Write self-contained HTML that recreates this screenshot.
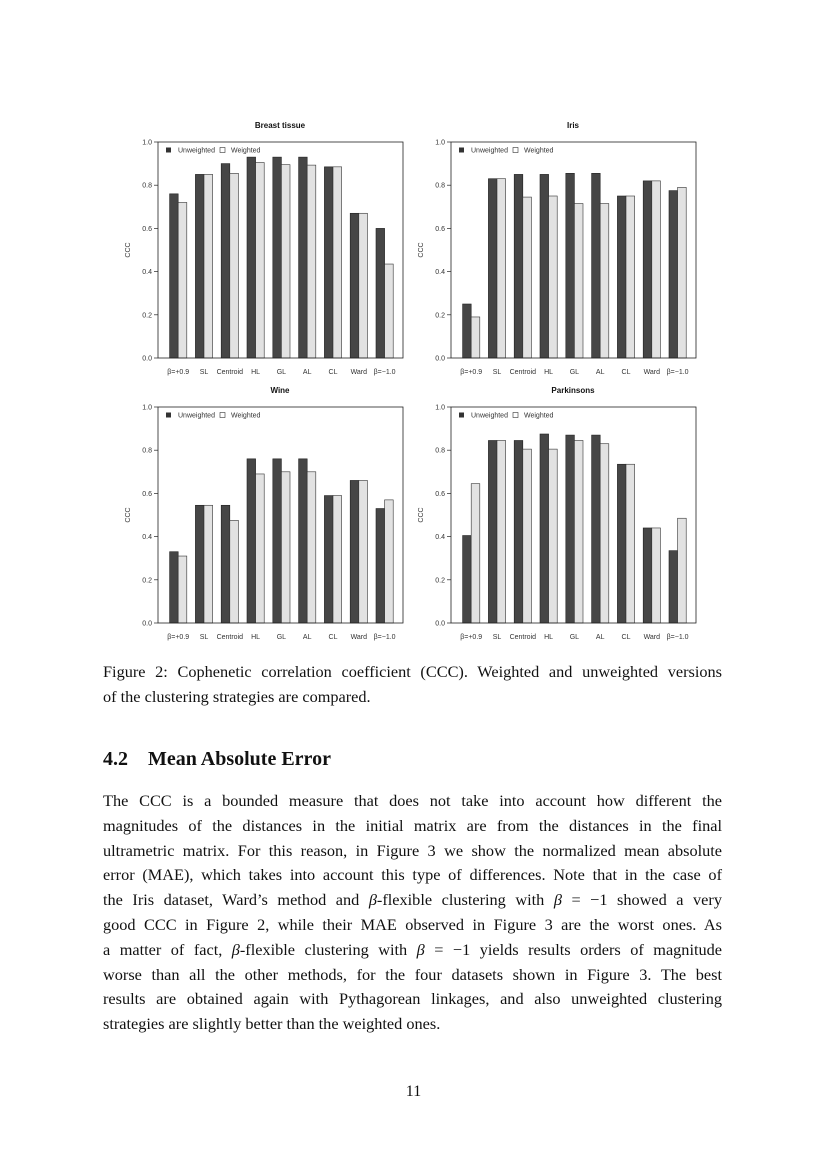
<!DOCTYPE html>
<html><head><meta charset="utf-8"><style>
body{margin:0;background:#fff;width:827px;height:1169px;position:relative;overflow:hidden;font-family:"Liberation Serif",serif;color:#111}
svg{position:absolute;left:0;top:0}
.t{position:absolute;left:103px;width:619px;font-size:16.3px;line-height:24.8px}
.t div{text-align:justify;text-align-last:justify;white-space:nowrap}
.t div.l{text-align-last:left}
.ax{font-family:"Liberation Sans",sans-serif;font-size:7px;fill:#333}
.ti{font-family:"Liberation Sans",sans-serif;font-size:8px;font-weight:bold;fill:#111}
</style></head><body>
<svg id="s" width="827" height="1169" xmlns="http://www.w3.org/2000/svg"></svg>
<div class="t" style="top:660px"><div>Figure 2: Cophenetic correlation coefficient (CCC). Weighted and unweighted versions</div><div class="l">of the clustering strategies are compared.</div></div>
<div style="position:absolute;left:103px;top:748px;font-size:20px;font-weight:bold">4.2&nbsp;&nbsp;&nbsp;&nbsp;Mean Absolute Error</div>
<div class="t" style="top:789px">
<div>The CCC is a bounded measure that does not take into account how different the</div>
<div>magnitudes of the distances in the initial matrix are from the distances in the final</div>
<div>ultrametric matrix. For this reason, in Figure 3 we show the normalized mean absolute</div>
<div>error (MAE), which takes into account this type of differences. Note that in the case of</div>
<div>the Iris dataset, Ward’s method and <i>β</i>-flexible clustering with <i>β</i> = −1 showed a very</div>
<div>good CCC in Figure 2, while their MAE observed in Figure 3 are the worst ones. As</div>
<div>a matter of fact, <i>β</i>-flexible clustering with <i>β</i> = −1 yields results orders of magnitude</div>
<div>worse than all the other methods, for the four datasets shown in Figure 3. The best</div>
<div>results are obtained again with Pythagorean linkages, and also unweighted clustering</div>
<div class="l">strategies are slightly better than the weighted ones.</div>
</div>
<div style="position:absolute;left:0;width:827px;text-align:center;top:1083px;font-size:16px">11</div>
<script>
var charts=[
["Breast tissue",158,142,[0.76,0.85,0.90,0.93,0.93,0.93,0.885,0.67,0.60],[0.72,0.85,0.855,0.905,0.895,0.893,0.885,0.67,0.435]],
["Iris",451,142,[0.25,0.83,0.85,0.85,0.855,0.855,0.75,0.82,0.775],[0.19,0.83,0.745,0.75,0.715,0.715,0.75,0.82,0.79]],
["Wine",158,407,[0.33,0.545,0.545,0.76,0.76,0.76,0.59,0.66,0.53],[0.31,0.545,0.475,0.69,0.70,0.70,0.59,0.66,0.57]],
["Parkinsons",451,407,[0.405,0.845,0.845,0.875,0.87,0.87,0.735,0.44,0.335],[0.645,0.845,0.805,0.805,0.845,0.83,0.735,0.44,0.485]]];
var labs=["β=+0.9","SL","Centroid","HL","GL","AL","CL","Ward","β=−1.0"];
var h="";
charts.forEach(function(c){
 var W=245,H=216;
 h+='<g transform="translate('+c[1]+','+c[2]+')">';
 h+='<text class="ti" x="122" y="-14" text-anchor="middle">'+c[0]+'</text>';
 for(var i=0;i<9;i++){var x=11.6+i*25.8;
  h+='<rect x="'+x+'" y="'+(H-c[3][i]*H)+'" width="8.6" height="'+c[3][i]*H+'" fill="#464646" stroke="#222" stroke-width="0.6"/>';
  h+='<rect x="'+(x+8.6)+'" y="'+(H-c[4][i]*H)+'" width="8.6" height="'+c[4][i]*H+'" fill="#e2e2e2" stroke="#333" stroke-width="0.6"/>';
  h+='<text class="ax" x="'+(x+8.6)+'" y="232" text-anchor="middle">'+labs[i]+'</text>';}
 h+='<rect x="0" y="0" width="'+W+'" height="'+H+'" fill="none" stroke="#222" stroke-width="0.8"/>';
 for(var k=0;k<=5;k++){var y=H-k*0.2*H;
  h+='<line x1="-4" x2="0" y1="'+y+'" y2="'+y+'" stroke="#222" stroke-width="0.7"/>';
  h+='<text class="ax" x="-6" y="'+(y+2.5)+'" text-anchor="end">'+(k*0.2).toFixed(1)+'</text>';}
 h+='<text class="ax" transform="translate(-28,108) rotate(-90)" text-anchor="middle">CCC</text>';
 h+='<rect x="8" y="5.5" width="5" height="5" fill="#333"/><text class="ax" x="20" y="10.5">Unweighted</text>';
 h+='<rect x="62" y="5.5" width="5" height="5" fill="#fff" stroke="#333" stroke-width="0.6"/><text class="ax" x="73" y="10.5">Weighted</text>';
 h+='</g>';});
document.getElementById("s").innerHTML=h;
</script>
</body></html>
